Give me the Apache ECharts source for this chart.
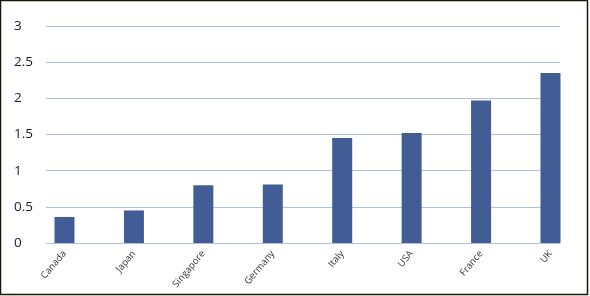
<!DOCTYPE html>
<html><head><meta charset="utf-8">
<script src="https://cdn.jsdelivr.net/npm/echarts@6/dist/echarts.min.js"></script>
<style>html,body{margin:0;padding:0;background:#fff}#c{width:590px;height:296px}</style>
</head><body><div id="c"></div>
<script>
const categories = ['Canada','Japan','Singapore','Germany','Italy','USA','France','UK'];
const values = [0.36, 0.45, 0.8, 0.81, 1.45, 1.52, 1.97, 2.35];
const yTicks = ['0','0.5','1','1.5','2','2.5','3'];

const chart = echarts.init(document.getElementById('c'), null, {renderer:'canvas'});
const font = '"Open Sans", "Noto Sans", sans-serif';
chart.setOption({
  animation:false,
  graphic:[{type:'rect', shape:{x:0.5,y:0.5,width:587,height:294}, style:{fill:'none', stroke:'#1c1408', lineWidth:1.5}, z:100}],
  grid:[
    {left:46, right:30, top:26, bottom:53},
    {left:64.5, right:39.5, top:26, bottom:53}
  ],
  xAxis:[
    {gridIndex:0, type:'category', data:categories, show:false},
    {gridIndex:1, type:'category', data:categories, boundaryGap:false,
     axisLine:{show:false}, axisTick:{show:false},
     axisLabel:{rotate:50, fontSize:9.5, color:'#333', fontFamily:'"Liberation Sans Narrow", "Open Sans", sans-serif', margin:9, interval:0}}
  ],
  yAxis:[
    {gridIndex:0, type:'value', min:0, max:3, interval:0.5,
     axisLine:{show:false}, axisTick:{show:false},
     splitLine:{show:true, lineStyle:{color:'#aec0e2', width:1}},
     axisLabel:{align:'left', margin:32, fontSize:13.5, color:'#1a1a1a', fontFamily:font,
       formatter:(v)=>{const i=Math.round(v/0.5);return yTicks[i]!==undefined?yTicks[i]:'';}}},
    {gridIndex:1, type:'value', min:0, max:3, interval:0.5, show:false, splitLine:{show:false}}
  ],
  series:[{
    type:'bar', xAxisIndex:1, yAxisIndex:1, data:values, barWidth:20,
    itemStyle:{color:'#425c96'}
  }]
});
</script></body></html>
